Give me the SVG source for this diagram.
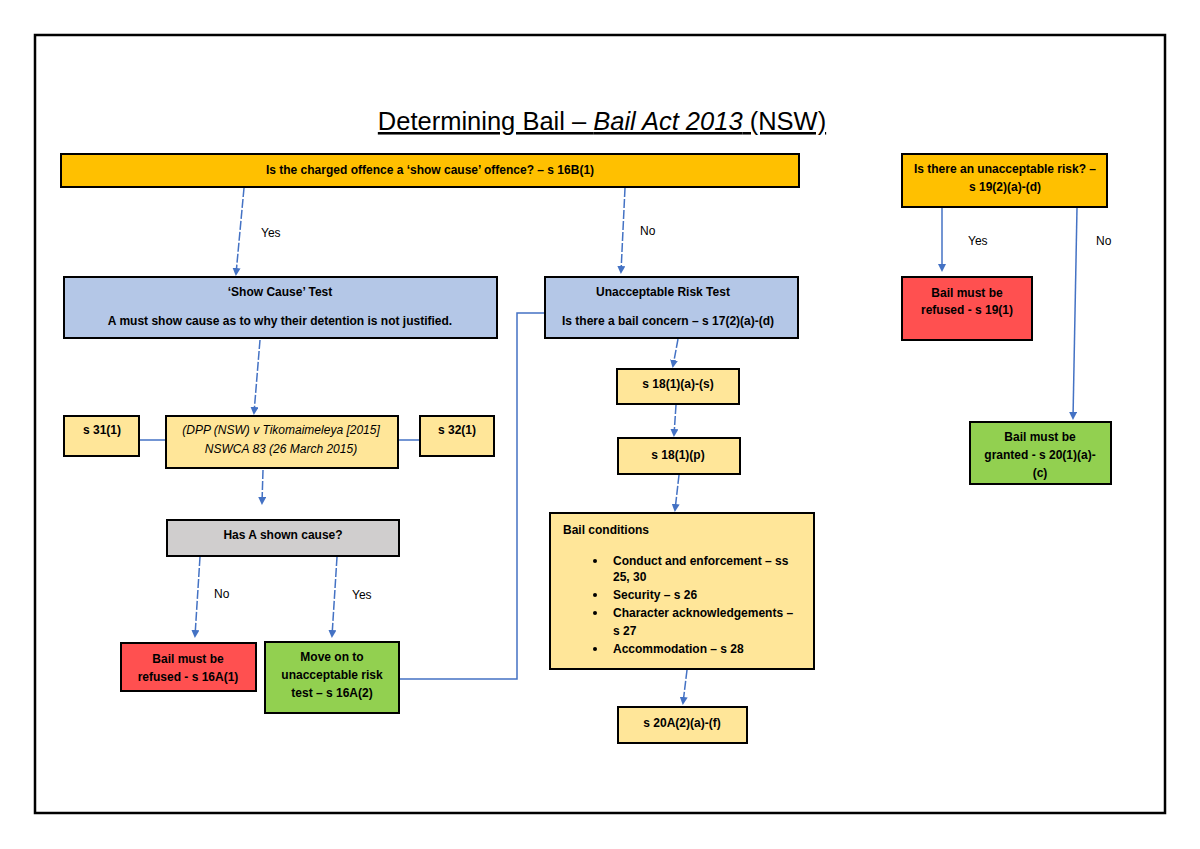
<svg xmlns="http://www.w3.org/2000/svg" width="1200" height="849" viewBox="0 0 1200 849">
<style>
.t{font-family:"Liberation Sans",Arial,sans-serif;font-size:12px;font-weight:bold;fill:#000;text-anchor:middle}
.s{font-family:"Liberation Sans",Arial,sans-serif;font-size:12px;font-weight:bold;fill:#000;text-anchor:start}
.l{font-family:"Liberation Sans",Arial,sans-serif;font-size:12px;fill:#000;text-anchor:start}
.b{stroke:#000;stroke-width:2}
.c{fill:none;stroke:#4472C4;stroke-width:1.5}
.d{stroke-dasharray:9,2}
</style>
<defs>
<marker id="ah" markerWidth="8" markerHeight="8" refX="6" refY="4" orient="auto" markerUnits="userSpaceOnUse">
<path d="M0,0 L8,4 L0,8 Z" fill="#4472C4"/>
</marker>
</defs>
<rect x="0" y="0" width="1200" height="849" fill="#fff"/>
<rect x="35" y="35" width="1130" height="778" fill="#fff" stroke="#000" stroke-width="2.5"/>
<g id="title">
<text x="602" y="130" font-family="Liberation Sans,Arial,sans-serif" font-size="25.5" text-anchor="middle" text-decoration="underline">Determining Bail – <tspan font-style="italic">Bail Act 2013</tspan> (NSW)</text>
</g>

<g id="connectors">
<path class="c d" d="M244,188 L236,274" marker-end="url(#ah)"/>
<path class="c d" d="M625,188 L621,272" marker-end="url(#ah)"/>
<path class="c d" d="M260,340 L254,413" marker-end="url(#ah)"/>
<path class="c" d="M140,440 L166,440"/>
<path class="c" d="M398,440 L420,440"/>
<path class="c d" d="M263,470 L262,503" marker-end="url(#ah)"/>
<path class="c d" d="M200,557 L195,636" marker-end="url(#ah)"/>
<path class="c d" d="M337,557 L332,636" marker-end="url(#ah)"/>
<path class="c" d="M399,679 L517,679 L517,313 L545,313"/>
<path class="c d" d="M678,339 L673,366" marker-end="url(#ah)"/>
<path class="c d" d="M676,405 L674,435" marker-end="url(#ah)"/>
<path class="c d" d="M679,475 L675,510" marker-end="url(#ah)"/>
<path class="c d" d="M687,670 L683,703" marker-end="url(#ah)"/>
<path class="c" d="M942,208 L942,270" marker-end="url(#ah)"/>
<path class="c" d="M1077,208 L1073,418" marker-end="url(#ah)"/>
<text class="l" x="261" y="237">Yes</text>
<text class="l" x="640" y="235">No</text>
<text class="l" x="214" y="598">No</text>
<text class="l" x="352" y="599">Yes</text>
<text class="l" x="968" y="245">Yes</text>
<text class="l" x="1096" y="245">No</text>
</g>

<g id="n-showcause-q">
<rect class="b" x="61" y="154" width="738" height="33" fill="#FFC000"/>
<text class="t" x="430" y="174">Is the charged offence a ‘show cause’ offence? – s 16B(1)</text>
</g>
<g id="n-showcause-test">
<rect class="b" x="64" y="277" width="433" height="61" fill="#B4C7E7"/>
<text class="t" x="280" y="296">‘Show Cause’ Test</text>
<text class="t" x="280" y="325">A must show cause as to why their detention is not justified.</text>
</g>
<g id="n-urt">
<rect class="b" x="545" y="277" width="253" height="61" fill="#B4C7E7"/>
<text class="t" x="663" y="296">Unacceptable Risk Test</text>
<text class="t" x="668" y="325">Is there a bail concern – s 17(2)(a)-(d)</text>
</g>
<g id="n-s31">
<rect class="b" x="64" y="416" width="75" height="40" fill="#FFE699"/>
<text class="t" x="102" y="434">s 31(1)</text>
</g>
<g id="n-case">
<rect class="b" x="166" y="416" width="232" height="52" fill="#FFE699"/>
<text class="t" x="281" y="434" style="font-weight:normal;font-style:italic">(DPP (NSW) v Tikomaimeleya [2015]</text>
<text class="t" x="281" y="453" style="font-weight:normal;font-style:italic">NSWCA 83 (26 March 2015)</text>
</g>
<g id="n-s32">
<rect class="b" x="420" y="416" width="74" height="40" fill="#FFE699"/>
<text class="t" x="457" y="434">s 32(1)</text>
</g>
<g id="n-shown">
<rect class="b" x="167" y="520" width="232" height="36" fill="#D0CECE"/>
<text class="t" x="283" y="539">Has A shown cause?</text>
</g>
<g id="n-refused16">
<rect class="b" x="121" y="643" width="135" height="48" fill="#FF5050"/>
<text class="t" x="188" y="663">Bail must be</text>
<text class="t" x="188" y="681">refused - s 16A(1)</text>
</g>
<g id="n-moveon">
<rect class="b" x="265" y="642" width="134" height="71" fill="#92D050"/>
<text class="t" x="332" y="661">Move on to</text>
<text class="t" x="332" y="679">unacceptable risk</text>
<text class="t" x="332" y="697">test – s 16A(2)</text>
</g>
<g id="n-s18as">
<rect class="b" x="617" y="369" width="122" height="35" fill="#FFE699"/>
<text class="t" x="678" y="388">s 18(1)(a)-(s)</text>
</g>
<g id="n-s18p">
<rect class="b" x="618" y="438" width="122" height="36" fill="#FFE699"/>
<text class="t" x="678" y="459">s 18(1)(p)</text>
</g>
<g id="n-conditions">
<rect class="b" x="550" y="513" width="264" height="156" fill="#FFE699"/>
<text class="s" x="563" y="534">Bail conditions</text>
<circle cx="595" cy="561" r="2"/>
<circle cx="595" cy="595" r="2"/>
<circle cx="595" cy="613" r="2"/>
<circle cx="595" cy="649" r="2"/>
<text class="s" x="613" y="565">Conduct and enforcement – ss</text>
<text class="s" x="613" y="581">25, 30</text>
<text class="s" x="613" y="599">Security – s 26</text>
<text class="s" x="613" y="617">Character acknowledgements –</text>
<text class="s" x="613" y="635">s 27</text>
<text class="s" x="613" y="653">Accommodation – s 28</text>
</g>
<g id="n-s20a">
<rect class="b" x="618" y="707" width="129" height="36" fill="#FFE699"/>
<text class="t" x="682" y="727">s 20A(2)(a)-(f)</text>
</g>
<g id="n-unaccept-q">
<rect class="b" x="902" y="154" width="205" height="53" fill="#FFC000"/>
<text class="t" x="1005" y="173">Is there an unacceptable risk? –</text>
<text class="t" x="1005" y="191">s 19(2)(a)-(d)</text>
</g>
<g id="n-refused19">
<rect class="b" x="902" y="277" width="130" height="63" fill="#FF5050"/>
<text class="t" x="967" y="297">Bail must be</text>
<text class="t" x="967" y="314">refused - s 19(1)</text>
</g>
<g id="n-granted">
<rect class="b" x="970" y="422" width="141" height="62" fill="#92D050"/>
<text class="t" x="1040" y="441">Bail must be</text>
<text class="t" x="1040" y="459">granted - s 20(1)(a)-</text>
<text class="t" x="1040" y="477">(c)</text>
</g>
</svg>
